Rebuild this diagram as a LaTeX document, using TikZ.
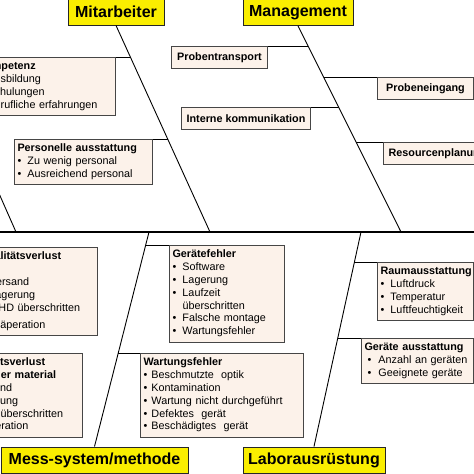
\documentclass[tikz,border=0pt]{standalone}
\usepackage{fontspec}
\setmainfont{Liberation Sans}
\usepackage{xcolor}
\usepackage{tikz}
\usetikzlibrary{positioning}

\definecolor{boxfill}{RGB}{252,242,234}
\definecolor{headfill}{RGB}{250,238,0}
\definecolor{boxline}{RGB}{70,70,70}

% bullet line and bold heading inside a cause box
\newcommand{\itm}[2][10pt]{\strut\makebox[#1][l]{\textbullet}#2}
\newcommand{\hd}[1]{\strut\textbf{#1}}

\tikzset{
  headbox/.style={draw=black!85,line width=0.9pt,fill=headfill,minimum height=26pt,inner sep=0pt,
    font=\fontsize{16}{18}\selectfont\bfseries},
  causebox/.style={draw=boxline,line width=1pt,fill=boxfill,anchor=north west,align=left,
    inner xsep=3pt,inner ysep=3.5pt,font=\fontsize{10.8}{12.8}\selectfont},
  smallbox/.style={draw=boxline,line width=1pt,fill=boxfill,anchor=north west,minimum height=22pt,
    inner sep=0pt,font=\fontsize{10.8}{12.8}\selectfont\bfseries},
  bone/.style={line width=0.9pt},
  spine/.style={line width=2.8pt}
}

\begin{document}
\begin{tikzpicture}[x=1pt,y=-1pt]

  \useasboundingbox (0,0) rectangle (474,474);
  \clip (0,0) rectangle (474,474);

  % main spine
  \coordinate (spL) at (-5,232);
  \coordinate (spR) at (480,232);
  \draw[spine] (spL) -- (spR);

  % category heads
  \node[headbox,minimum width=96pt] (mit) at (116,12) {Mitarbeiter};
  \node[headbox,minimum width=110pt] (man) at (298,12.5) {Management};
  \node[headbox,minimum width=187pt] (mess) at (94.5,460) {Mess-system/methode};
  \node[headbox,minimum width=142pt] (lab) at (314,460) {Laborausrüstung};

  % bones
  \coordinate (mitS) at (210,232);
  \coordinate (manS) at (401,232);
  \coordinate (messS) at (149,232);
  \coordinate (labS) at (361,232);
  \coordinate (offT) at (-40,105);
  \coordinate (offS) at (16,232);
  \draw[bone] (mit.south) -- (mitS);
  \draw[bone] (man.south) -- (manS);
  \draw[bone] (mess.north) -- (messS);
  \draw[bone] (lab.north) -- (labS);
  \draw[bone] (offT) -- (offS);

  % causes, upper half
  \node[causebox,text width=135pt] (komp) at (-26,57)
    {\hd{Kompetenz}\\ \itm{Ausbildung}\\ \itm{Schulungen}\\ \itm{Berufliche erfahrungen}};
  \node[causebox,text width=132pt] (pers) at (14,139)
    {\hd{Personelle ausstattung}\\ \itm{Zu wenig personal}\\ \itm{Ausreichend personal}};
  \node[smallbox,minimum width=96pt] (probtr) at (171,46) {Probentransport};
  \node[smallbox,minimum width=96pt] (probein) at (377,77) {Probeneingang};
  \node[smallbox,minimum width=129pt] (intkom) at (181,107) {Interne kommunikation};
  \node[smallbox,minimum width=108pt] (resplan) at (383,142) {Resourcenplanung};

  \coordinate (kompB) at (131.4,57);
  \coordinate (persB) at (168.2,139);
  \coordinate (probtrB) at (308,46);
  \coordinate (probeinB) at (323.5,77);
  \coordinate (intkomB) at (338.5,107);
  \coordinate (resplanB) at (356,142);
  \draw[bone] (komp.north east) -- (kompB);
  \draw[bone] (pers.north east) -- (persB);
  \draw[bone] (probtr.north east) -- (probtrB);
  \draw[bone] (probein.north west) -- (probeinB);
  \draw[bone] (intkom.north east) -- (intkomB);
  \draw[bone] (resplan.north west) -- (resplanB);

  % causes, lower half
  \node[causebox,text width=115pt] (qualA) at (-24,247)
    {\hd{Qualitätsverlust}\\[13pt] \itm{Versand}\\ \itm{Lagerung}\\ \itm{MHD überschritten}\\[4pt] \itm{Präperation}};
  \node[causebox,text width=116pt] (qualB) at (-40,353)
    {\hd{Qualitätsverlust}\\ \hspace*{-4pt}\hd{Kontroller material}\\ \itm[9pt]{Versand}\\ \itm[9pt]{Lagerung}\\ \itm[9pt]{MHD überschritten}\\ \itm[9pt]{Präperation}};
  \node[causebox,text width=109pt] (geraet) at (169,245)
    {\hd{Gerätefehler}\\ \itm{Software}\\ \itm{Lagerung}\\ \itm{Laufzeit}\\ \strut\hspace*{10pt}überschritten\\ \itm{Falsche montage}\\ \itm{Wartungsfehler}};
  \node[causebox,text width=157pt] (wart) at (140,353)
    {\hd{Wartungsfehler}\\ \itm[8pt]{Beschmutzte~ optik}\\ \itm[8pt]{Kontamination}\\ \itm[8pt]{Wartung nicht durchgeführt}\\ \itm[8pt]{Defektes~ gerät}\\ \itm[8pt]{Beschädigtes~ gerät}};
  \node[causebox,text width=90pt] (raum) at (377,262)
    {\hd{Raumausstattung}\\ \itm{Luftdruck}\\ \itm{Temperatur}\\ \itm{Luftfeuchtigkeit}};
  \node[causebox,text width=106pt] (geraus) at (361,338)
    {\hd{Geräte ausstattung}\\ \hspace*{3pt}\itm[11pt]{Anzahl an geräten}\\ \hspace*{3pt}\itm[11pt]{Geeignete geräte}};

  \coordinate (geraetB) at (145.6,245);
  \coordinate (wartB) at (117.5,353);
  \coordinate (raumB) at (354.4,262);
  \coordinate (gerausB) at (337.8,338);
  \draw[bone] (geraet.north west) -- (geraetB);
  \draw[bone] (wart.north west) -- (wartB);
  \draw[bone] (raum.north west) -- (raumB);
  \draw[bone] (geraus.north west) -- (gerausB);

\end{tikzpicture}
\end{document}
